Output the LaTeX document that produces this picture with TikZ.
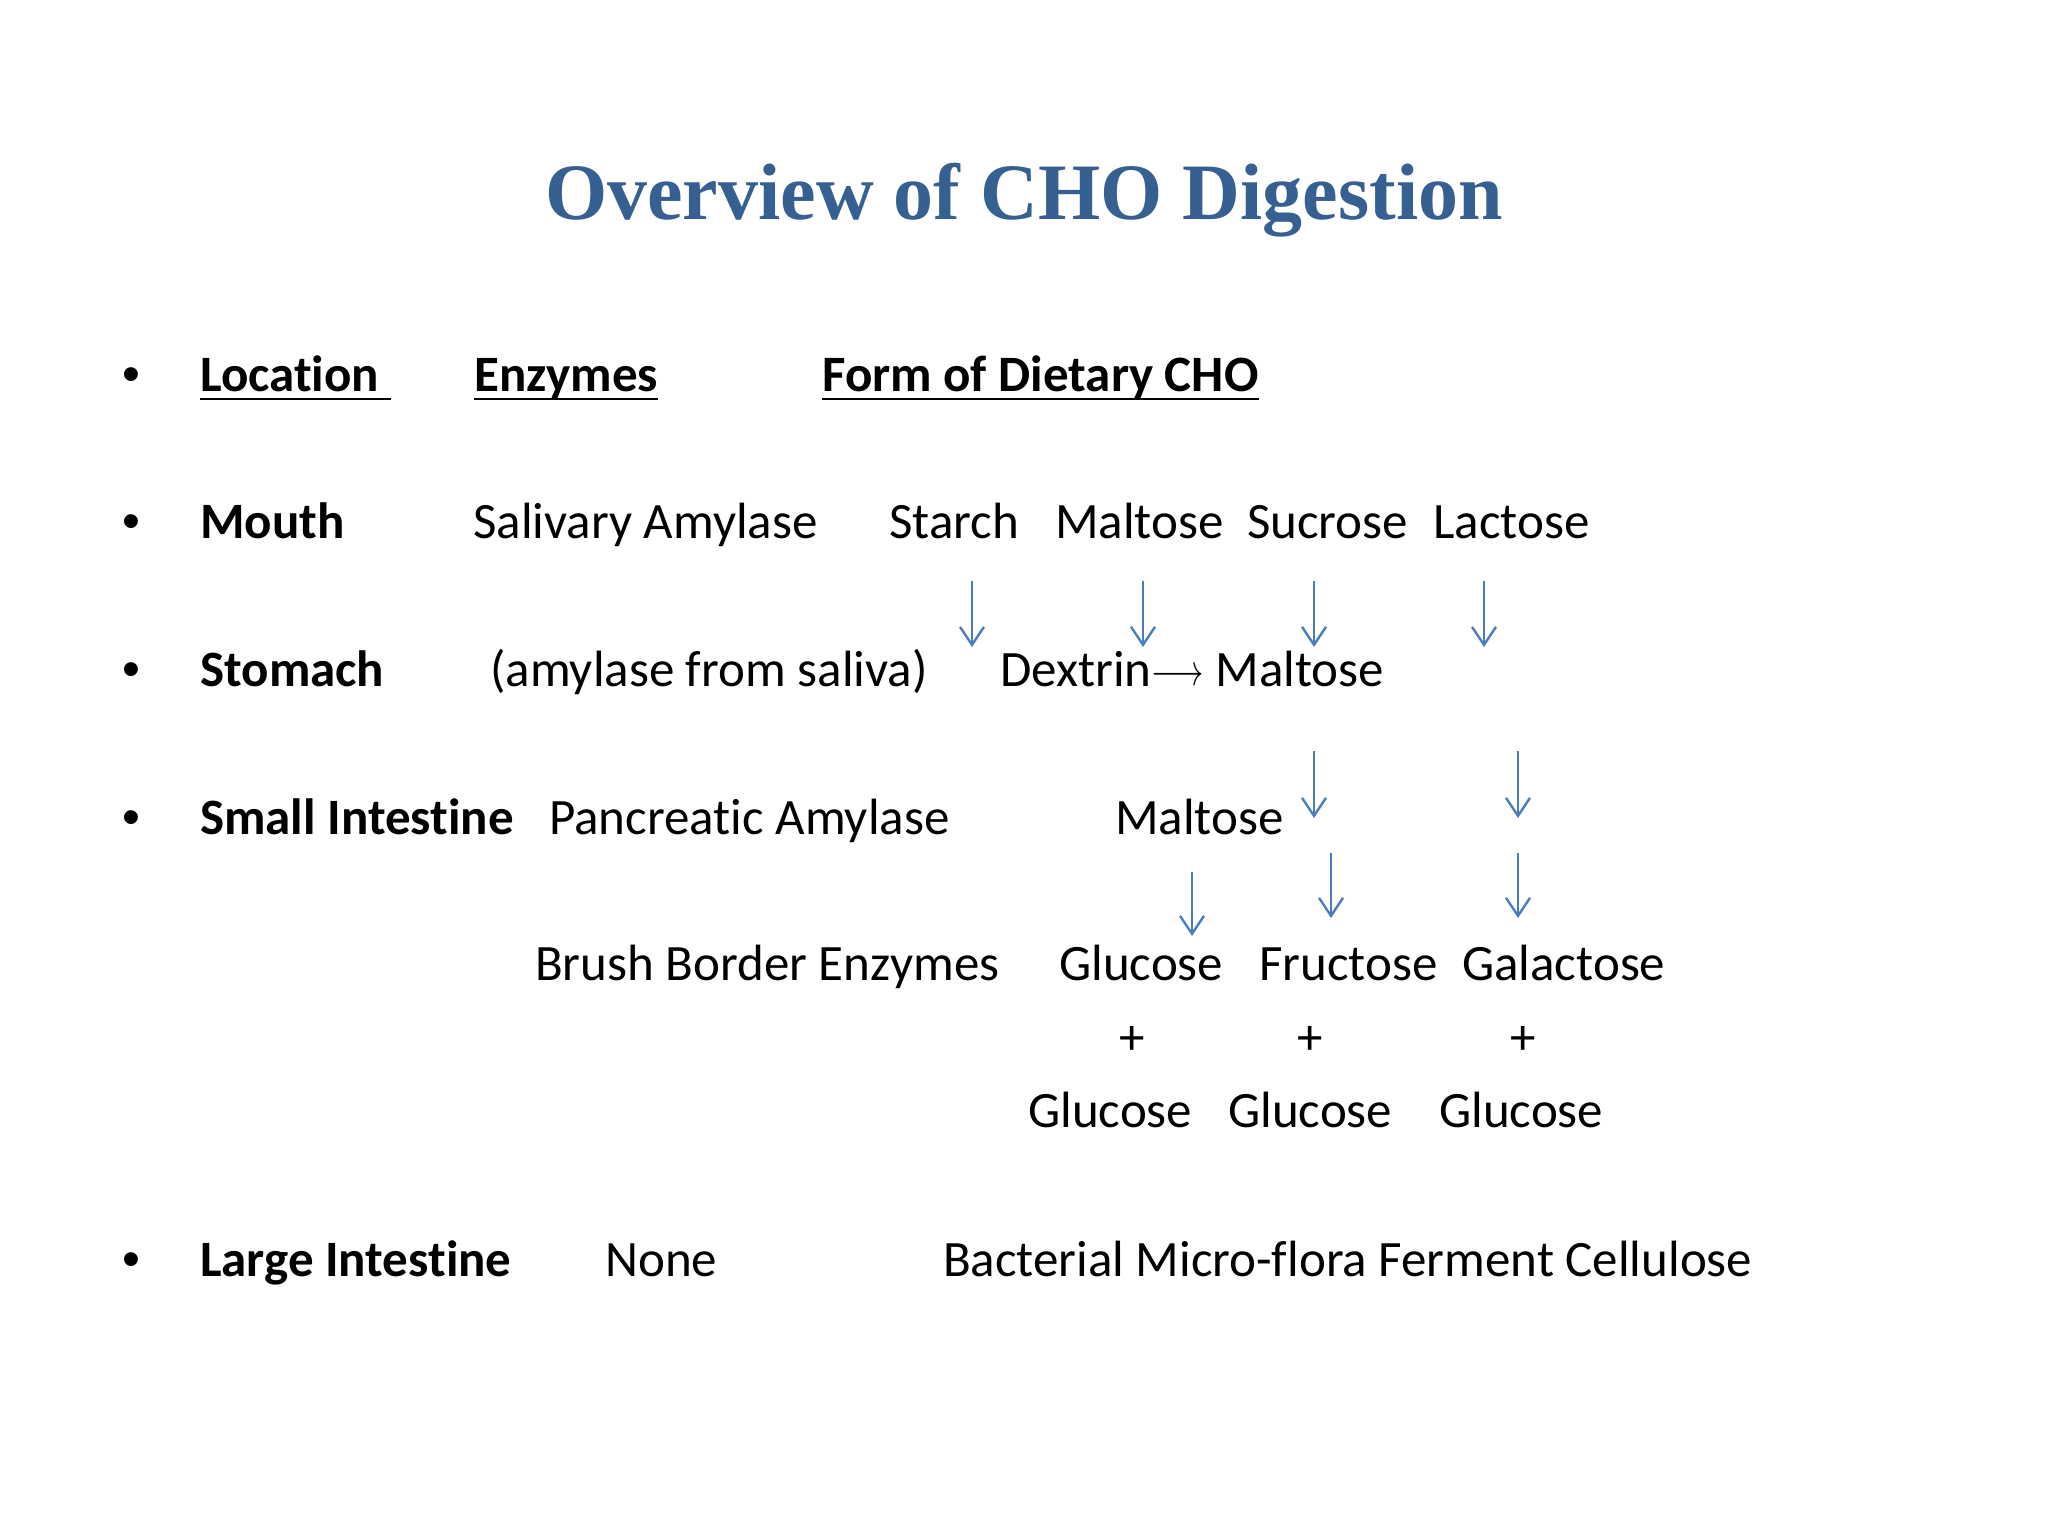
\documentclass[tikz,border=0pt]{standalone}
\usepackage{fontspec}
\setmainfont{Carlito}[RawFeature=-liga]
\newfontfamily\titlefont{Liberation Serif}
\newfontfamily\bulfont{Liberation Sans}
\usetikzlibrary{arrows.meta}
\definecolor{titleblue}{RGB}{55,96,146}
\definecolor{arrowblue}{RGB}{74,126,187}
\newcommand{\longarr}{\raisebox{1pt}{\scalebox{1.3}[1.8]{$\longrightarrow$}}}
\tikzset{
  txt/.style={anchor=base west, inner sep=0pt, font=\fontsize{51}{60}\selectfont},
  bold/.style={txt, font=\fontsize{51}{60}\selectfont\bfseries},
  ctr/.style={anchor=base, inner sep=0pt, font=\fontsize{51}{60}\selectfont},
  bul/.style={anchor=base, inner sep=0pt, font=\fontsize{51}{60}\selectfont\bulfont},
  uline/.style={line width=2.6pt, black},
  darr/.style={arrowblue, line width=2.4pt, -{Straight Barb[length=18pt,width=24pt,line width=2.4pt]}}
}
\begin{document}
\begin{tikzpicture}[x=1pt,y=-1pt]
\useasboundingbox[fill=white] (0,0) rectangle (2048,1536);
% title
\node[anchor=base, inner sep=0pt, text=titleblue, font=\fontsize{80}{90}\selectfont\titlefont\bfseries] (title) at (1024,219) {Overview of CHO Digestion};
% bullets
\foreach \n/\y in {b1/391, b2/538, b3/686, b4/834, b5/1276}{
  \node[bul] (\n) at (131,\y) {•};
}
% header
\node[bold] (hloc) at (200,391) {Location};
\node[bold] (henz) at (474,391) {Enzymes};
\node[bold] (hform) at (822,391) {Form of Dietary CHO};
\draw[uline] ([yshift=-8pt]hloc.base west) -- ([yshift=-8pt,xshift=12pt]hloc.base east);
\foreach \h in {henz,hform}{
  \draw[uline] ([yshift=-8pt]\h.base west) -- ([yshift=-8pt]\h.base east);
}
% mouth
\node[bold] (mouth) at (200,538) {Mouth};
\node[txt] (sal) at (473,538) {Salivary Amylase};
\node[txt] (starch) at (889,538) {Starch};
\node[txt] (malt1) at (1055,538) {Maltose};
\node[txt] (sucr) at (1247,538) {Sucrose};
\node[txt] (lact) at (1433,538) {Lactose};
% arrows row 1
\foreach \i/\x in {1/972, 2/1143, 3/1314, 4/1484}{
  \coordinate (a\i s) at (\x,581);
  \coordinate (a\i e) at (\x,647);
  \draw[darr] (a\i s) -- (a\i e);
}
% stomach
\node[bold] (stom) at (200,686) {Stomach};
\node[txt] (amyl) at (490,686) {(amylase from saliva)};
\node[txt] (dex) at (1000,686) {Dextrin\longarr\ Maltose};
% arrows row 2
\foreach \i/\x in {5/1314, 6/1518}{
  \coordinate (a\i s) at (\x,751);
  \coordinate (a\i e) at (\x,818);
  \draw[darr] (a\i s) -- (a\i e);
}
% small intestine
\node[bold] (si) at (200,834) {Small Intestine};
\node[txt] (panc) at (549,834) {Pancreatic Amylase};
\node[txt] (malt2) at (1115,834) {Maltose};
% arrows row 3
\coordinate (a7s) at (1192,872); \coordinate (a7e) at (1192,936);
\draw[darr] (a7s) -- (a7e);
\foreach \i/\x in {8/1331, 9/1518}{
  \coordinate (a\i s) at (\x,853);
  \coordinate (a\i e) at (\x,918);
  \draw[darr] (a\i s) -- (a\i e);
}
% brush border
\node[txt] (bb) at (535,980) {Brush Border Enzymes};
\node[txt] (glu1) at (1059,980) {Glucose};
\node[txt] (fru) at (1259,980) {Fructose};
\node[txt] (gal) at (1462,980) {Galactose};
% plus
\node[ctr] (p1) at (1132,1054) {+};
\node[ctr] (p2) at (1310,1054) {+};
\node[ctr] (p3) at (1523,1054) {+};
% glucose row
\node[txt] (g1) at (1028,1127) {Glucose};
\node[txt] (g2) at (1228,1127) {Glucose};
\node[txt] (g3) at (1439,1127) {Glucose};
% large intestine
\node[bold] (li) at (200,1276) {Large Intestine};
\node[txt] (none) at (605,1276) {None};
\node[txt] (bact) at (943,1276) {Bacterial Micro-flora Ferment Cellulose};
\end{tikzpicture}
\end{document}
